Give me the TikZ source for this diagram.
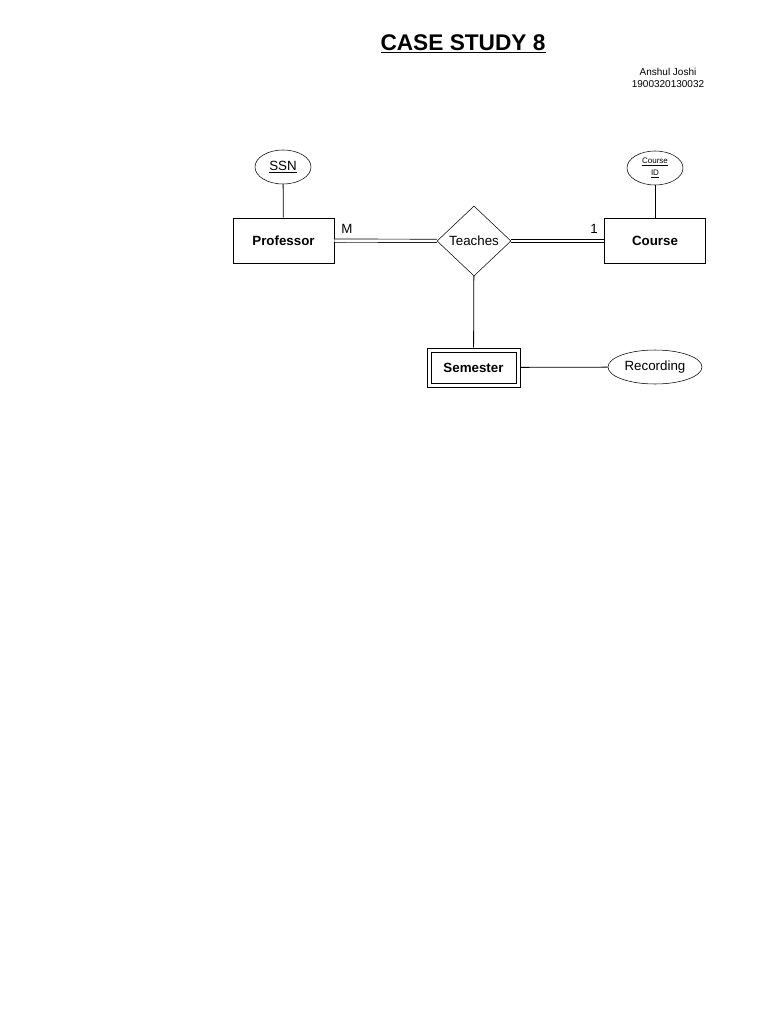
\documentclass[tikz,border=0pt]{standalone}
\usepackage{fontspec}
\setmainfont{Liberation Sans}
\usetikzlibrary{shapes.geometric}
\begin{document}
\begin{tikzpicture}[x=0.75pt,y=-0.75pt,
 ent/.style={draw,minimum width=75.75pt,minimum height=33.75pt,font=\bfseries\fontsize{10}{12}\selectfont,inner sep=0pt},
 attr/.style={draw,ellipse,minimum width=42pt,minimum height=25.5pt,inner sep=0pt,font=\fontsize{10}{12}\selectfont},
 ln/.style={line width=0.6pt},
 dbl/.style={double,double distance=2pt,line width=0.5pt}]
\useasboundingbox (0,0) rectangle (768,1024);
\node[font=\bfseries\fontsize{17}{20}\selectfont] (title) at (463,44) {\underline{CASE STUDY 8}};
\node[font=\fontsize{7.5}{9}\selectfont,align=center] (auth) at (668,78) {Anshul Joshi\\1900320130032};
\node[ent] (prof) at (283.5,240.5) {Professor};
\node[ent] (course) at (655,241) {Course};
\node[draw,diamond,minimum width=55.5pt,minimum height=52.5pt,inner sep=0pt,font=\fontsize{10}{12}\selectfont] (teach) at (474,241) {Teaches};
\node[draw,minimum width=69.75pt,minimum height=29.25pt] (semo) at (473.5,367.5) {};
\node[draw,minimum width=63.75pt,minimum height=23.25pt,font=\bfseries\fontsize{10}{12}\selectfont] (sem) at (473.5,367.5) {Semester};
\node[attr] (ssn) at (283,167) {\underline{SSN}};
\node[attr,align=center,font=\fontsize{6}{8}\selectfont] (cid) at (655,168) {\underline{Course}\\[1pt]\underline{ID}};
\node[attr,minimum width=70.5pt] (rec) at (655,367) {Recording};
\draw[ln] (ssn) -- (prof);
\draw[ln] (cid) -- (course);
\draw[dbl] (prof) -- (teach);
\draw[dbl] (teach) -- (course);
\draw[ln] (teach) -- (semo);
\draw[ln] (semo) -- (rec);
\node[font=\fontsize{10}{12}\selectfont] (m) at (347,229) {M};
\node[font=\fontsize{10}{12}\selectfont] (one) at (594,229) {1};
\end{tikzpicture}
\end{document}
